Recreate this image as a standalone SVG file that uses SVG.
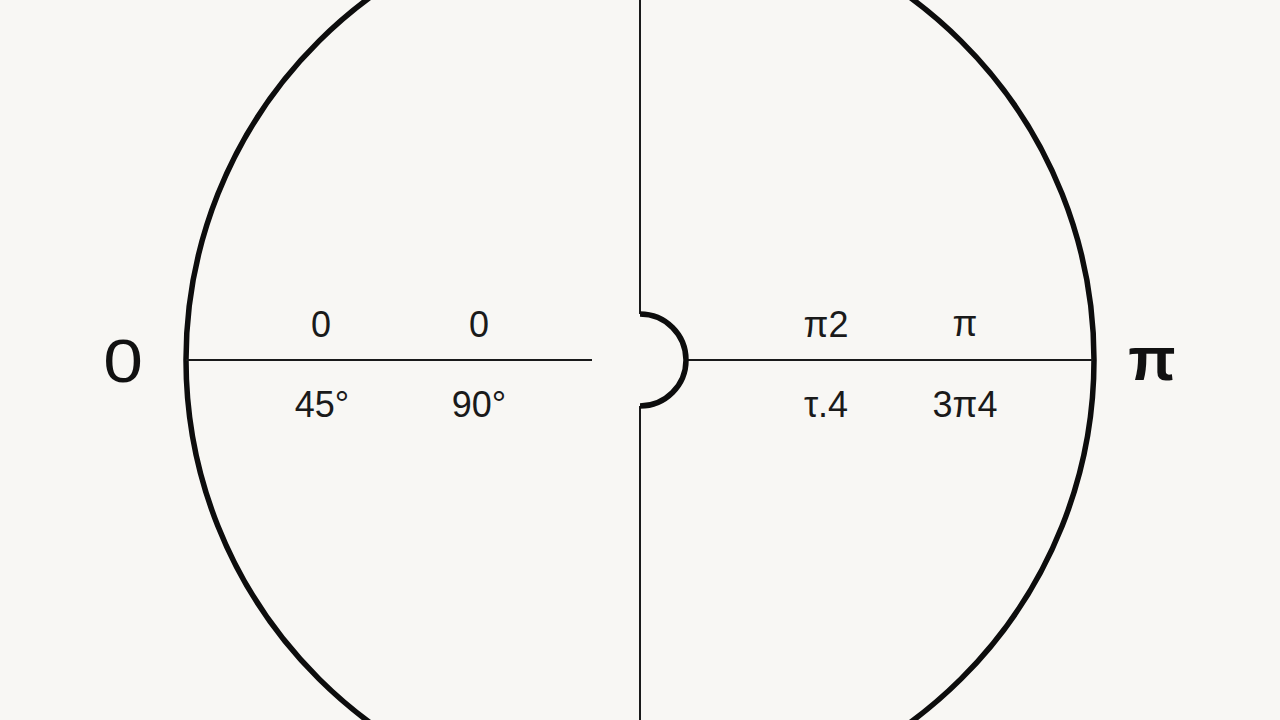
<svg xmlns="http://www.w3.org/2000/svg" width="1280" height="720" viewBox="0 0 1280 720">
<style>
.lbl{font-family:"Liberation Sans","DejaVu Sans",sans-serif;font-size:36px;fill:#1a1a1a;text-anchor:middle}
.big{font-family:"Liberation Sans","DejaVu Sans",sans-serif;font-size:62px;fill:#111;text-anchor:middle}
.thin{stroke:#1a1a1a;stroke-width:2;fill:none}
.thick{stroke:#0d0d0d;stroke-width:5.5;fill:none}
</style>
<rect width="1280" height="720" fill="#f8f7f4"/>
<g id="circle">
<ellipse class="thick" cx="640" cy="360" rx="454" ry="451"/>
</g>
<g id="connectors">
<line class="thin" x1="186" y1="360" x2="592" y2="360"/>
<line class="thin" x1="688" y1="360" x2="1093" y2="360"/>
<line class="thin" x1="640" y1="0" x2="640" y2="314"/>
<line class="thin" x1="640" y1="406" x2="640" y2="720"/>
<path class="thick" d="M640 314 A46 46 0 0 1 640 406"/>
</g>
<g id="left-labels">
<text class="big" x="123" y="382" transform="translate(123 0) scale(1.15 1) translate(-123 0)">0</text>
<text class="lbl" x="321" y="337">0</text>
<text class="lbl" x="479" y="337">0</text>
<text class="lbl" x="322" y="417">45°</text>
<text class="lbl" x="479" y="417">90°</text>
</g>
<g id="right-labels">
<text class="big" x="1152" y="380" font-weight="bold">π</text>
<text class="lbl" x="826" y="337">π2</text>
<text class="lbl" x="965" y="336">π</text>
<text class="lbl" x="826" y="417">τ.4</text>
<text class="lbl" x="965" y="417">3π4</text>
</g>
</svg>
